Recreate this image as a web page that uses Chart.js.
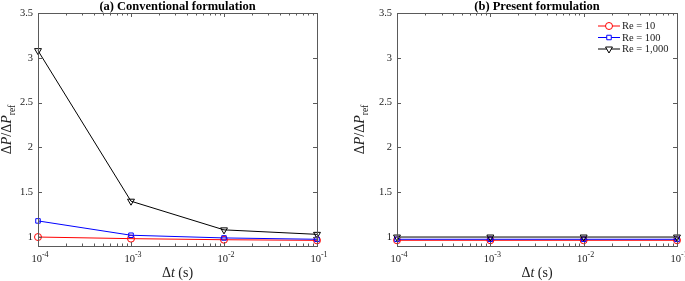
<!DOCTYPE html>
<html>
<head>
<meta charset="utf-8">
<script src="https://cdn.jsdelivr.net/npm/chart.js@4"></script>
<style>
  html, body { margin: 0; padding: 0; background: #fff; }
  .panel { position: absolute; top: 0; }
</style>
</head>
<body>
<div class="panel" style="left:0"><canvas id="left" width="340" height="281"></canvas></div>
<div class="panel" style="left:340px"><canvas id="right" width="345" height="281"></canvas></div>
<script>
// Data
const timeSteps = [1e-4, 1e-3, 1e-2, 1e-1];
const xTickValues = [1e-4, 1e-3, 1e-2, 1e-1];
const xTickExponents = ["-4", "-3", "-2", "-1"];
const yTickValues = [1, 1.5, 2, 2.5, 3, 3.5];
const seriesNames = ["Re = 10", "Re = 100", "Re = 1,000"];

const conventionalRe10 = [1.0, 0.982, 0.97, 0.963];
const conventionalRe100 = [1.18, 1.02, 0.99, 0.975];
const conventionalRe1000 = [3.08, 1.40, 1.08, 1.03];

const presentRe10 = [0.964, 0.964, 0.964, 0.964];
const presentRe100 = [0.975, 0.975, 0.975, 0.975];
const presentRe1000 = [1.0, 1.0, 1.0, 1.0];

const serif = "'Liberation Serif', 'Times New Roman', serif";
const axisColor = "#5a5a5a";
const textColor = "#222";

const seriesStyles = [
  { color: "#ff0000", pointStyle: "circle", rotation: 0, radius: 3.5 },
  { color: "#0000ff", pointStyle: "rect", rotation: 0, radius: 3.2 },
  { color: "#000000", pointStyle: "triangle", rotation: 180, radius: 4 },
];

function makeDatasets(values) {
  return values.map((vals, i) => ({
    label: seriesNames[i],
    data: timeSteps.map((t, j) => ({ x: t, y: vals[j] })),
    borderColor: seriesStyles[i].color,
    backgroundColor: "rgba(0,0,0,0)",
    pointBackgroundColor: "rgba(0,0,0,0)",
    pointBorderColor: seriesStyles[i].color,
    pointStyle: seriesStyles[i].pointStyle,
    pointRotation: seriesStyles[i].rotation,
    pointRadius: seriesStyles[i].radius,
    pointBorderWidth: 1,
    borderWidth: 1,
    tension: 0,
    clip: false,
    order: 3 - i,
  }));
}

// draws text pieces one after another, centred at (x, y)
function drawRich(ctx, parts, x, y) {
  let total = 0;
  parts.forEach((p) => {
    ctx.font = p.font;
    p.w = ctx.measureText(p.text).width;
    total += p.w;
  });
  let cx = x - total / 2;
  parts.forEach((p) => {
    ctx.font = p.font;
    ctx.fillText(p.text, cx, y + (p.dy || 0));
    cx += p.w;
  });
}

// box, inward ticks, labels and title
const frame = {
  id: "frame",
  afterDraw(chart, args, opts) {
    const { ctx, chartArea: a, scales } = chart;
    const xs = scales.x, ys = scales.y;
    ctx.save();
    ctx.strokeStyle = axisColor;
    ctx.lineWidth = 1;
    ctx.strokeRect(Math.round(a.left) + 0.5, Math.round(a.top) + 0.5,
      Math.round(a.right - a.left), Math.round(a.bottom - a.top));

    ctx.beginPath();
    // x major + minor ticks (top and bottom)
    for (let d = -4; d < -1; d++) {
      for (let m = 1; m <= 10; m++) {
        const v = m * Math.pow(10, d);
        const px = Math.round(xs.getPixelForValue(v)) + 0.5;
        const len = (m === 1 || m === 10) ? 4 : 2.5;
        ctx.moveTo(px, a.bottom); ctx.lineTo(px, a.bottom - len);
        ctx.moveTo(px, a.top); ctx.lineTo(px, a.top + len);
      }
    }
    ys.ticks.forEach((t) => {
      const py = Math.round(ys.getPixelForValue(t.value)) + 0.5;
      ctx.moveTo(a.left, py); ctx.lineTo(a.left + 4, py);
      ctx.moveTo(a.right, py); ctx.lineTo(a.right - 4, py);
    });
    ctx.stroke();

    // x tick labels with superscript exponents
    ctx.fillStyle = textColor;
    ctx.textBaseline = "alphabetic";
    xs.ticks.forEach((t, i) => {
      const px = xs.getPixelForValue(t.value);
      drawRich(ctx, [
        { text: "10", font: "10.5px " + serif },
        { text: xTickExponents[i], font: "8px " + serif, dy: -5 },
      ], px + 2, a.bottom + 16);
    });

    // x axis title
    drawRich(ctx, [
      { text: "\u0394", font: "14px " + serif },
      { text: "t", font: "italic 14px " + serif },
      { text: " (s)", font: "14px " + serif },
    ], (a.left + a.right) / 2, a.bottom + 31);

    // y axis title
    ctx.save();
    ctx.translate(opts.yTitleX, (a.top + a.bottom) / 2);
    ctx.rotate(-Math.PI / 2);
    drawRich(ctx, [
      { text: "\u0394", font: "14px " + serif },
      { text: "P", font: "italic 14px " + serif },
      { text: "/\u0394", font: "14px " + serif },
      { text: "P", font: "italic 14px " + serif },
      { text: "ref", font: "9.5px " + serif, dy: 4 },
    ], 0, 0);
    ctx.restore();

    // panel title
    ctx.font = "bold 12.5px " + serif;
    ctx.textAlign = "center";
    ctx.fillStyle = "#000";
    ctx.fillText(opts.title, (a.left + a.right) / 2, 10);

    // legend
    if (opts.legend) {
      chart.data.datasets.forEach((ds, i) => {
        const y = a.top + 13 + i * 11.5;
        const x0 = a.right - 79, x1 = a.right - 57;
        ctx.strokeStyle = ds.borderColor;
        ctx.beginPath();
        ctx.moveTo(x0, y); ctx.lineTo(x1, y);
        ctx.stroke();
        ctx.fillStyle = "#fff";
        Chart.helpers.drawPoint(ctx, {
          pointStyle: ds.pointStyle, rotation: ds.pointRotation,
          radius: ds.pointRadius, borderWidth: 1,
        }, (x0 + x1) / 2, y);
        ctx.fillStyle = textColor;
        ctx.textAlign = "left";
        ctx.textBaseline = "middle";
        ctx.font = "10.5px " + serif;
        ctx.fillText(ds.label, a.right - 55, y + 0.5);
      });
    }
    ctx.restore();
  },
};

function makeChart(id, values, yWidth, padRight, title, yTitleX, legend) {
  return new Chart(document.getElementById(id), {
    type: "line",
    data: { datasets: makeDatasets(values) },
    plugins: [frame],
    options: {
      responsive: false,
      animation: false,
      devicePixelRatio: 1,
      layout: { padding: { top: 13, right: padRight, left: 0, bottom: 0 } },
      plugins: {
        legend: { display: false },
        tooltip: { enabled: false },
        frame: { title, yTitleX, legend },
      },
      scales: {
        x: {
          type: "logarithmic",
          min: 1e-4,
          max: 1e-1,
          afterBuildTicks: (s) => { s.ticks = xTickValues.map((v) => ({ value: v })); },
          afterFit: (s) => { s.height = 35; s.paddingLeft = 0; s.paddingRight = 0; },
          grid: { display: false },
          border: { display: false },
          ticks: { display: false },
        },
        y: {
          type: "linear",
          min: 0.9,
          max: 3.5,
          afterBuildTicks: (s) => { s.ticks = yTickValues.map((v) => ({ value: v })); },
          afterFit: (s) => { s.width = yWidth; s.paddingTop = 0; s.paddingBottom = 0; },
          grid: { display: false, drawTicks: false },
          border: { display: false },
          ticks: {
            padding: 5,
            color: textColor,
            font: { family: serif, size: 10.5 },
            callback: (v) => String(v),
          },
        },
      },
    },
  });
}

makeChart("left", [conventionalRe10, conventionalRe100, conventionalRe1000],
  38, 23, "(a) Conventional formulation", 11, false);
makeChart("right", [presentRe10, presentRe100, presentRe1000],
  57, 8, "(b) Present formulation", 24, true);
</script>
</body>
</html>
